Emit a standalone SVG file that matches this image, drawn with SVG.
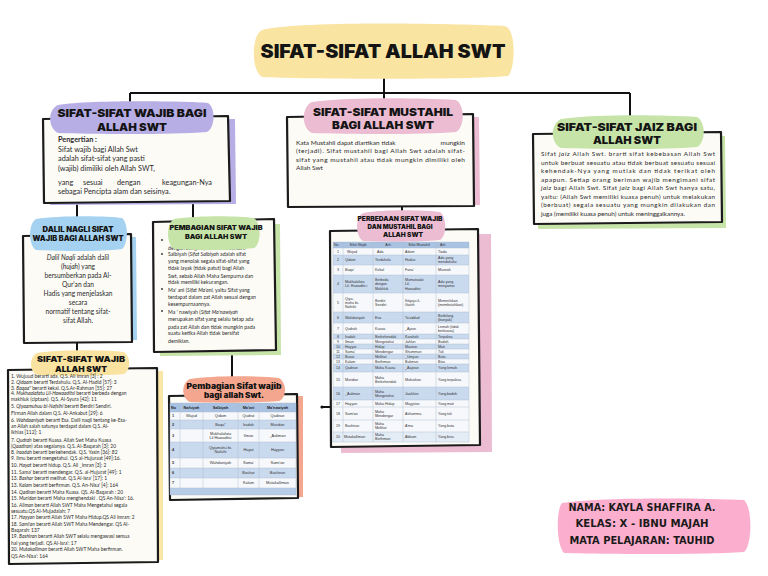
<svg xmlns="http://www.w3.org/2000/svg" width="768" height="576" viewBox="0 0 768 576">
<style>
.box{fill:#fcfbf6;stroke:#1b1b1b;stroke-width:2.2;stroke-linejoin:round}
.hd{font-family:Inter,"DejaVu Sans",sans-serif;font-weight:900;fill:#141414;text-anchor:middle}
.bd{font-family:Lato,"Open Sans",sans-serif;fill:#2a2a2a}
.tb{font-family:"Liberation Sans",Arial,sans-serif;font-size:3.6px;fill:#333}
.th{font-family:"Liberation Sans",Arial,sans-serif;font-size:3.8px;fill:#222;font-weight:700}
.tp{font-family:"Liberation Sans",Arial,sans-serif;font-size:3.9px;fill:#333;text-anchor:middle}
.tc{text-anchor:middle}
.ln{stroke:#111;stroke-width:2;fill:none}
.grid{stroke:#a7b8cf;stroke-width:0.4;fill:none}
.it{font-style:italic}
.rb{fill:#c9daee}
.rw{fill:#f6f8fb}
.rh{fill:#a9c2e2}
.nm{font-family:"DejaVu Sans","Liberation Sans",sans-serif;font-weight:700;font-size:11px;fill:#1a1a1a;text-anchor:middle}
</style>
<rect width="768" height="576" fill="#ffffff"/>

<g id="connectors">
<path class="ln" d="M384,78 V93 M130,93 H630 M130,93 V104 M384,93 V101 M630,93 V118 M77,202 V218 M193,202 V218 M77,343 V352 M232,351 V378 M402,206 V213 M322,407 H331"/>
<circle cx="322" cy="407" r="1.6" fill="#111"/>
</g>

<g id="title">
<path d="M262,30 C300,20 470,24 505,26 C517,30 515,70 508,76 C470,80 300,79 262,77 C251,70 251,36 262,30 Z" fill="#f9e4a2"/>
<text class="hd" x="383" y="58" font-size="18.5" textLength="245" lengthAdjust="spacingAndGlyphs">SIFAT-SIFAT ALLAH SWT</text>
</g>

<g id="wajib">
<path d="M50,121 L235,119 L236,204 L50,205 Z" fill="#b8aee6"/>
<path class="box" d="M43,119 L228,116 L230,201 L44,203 Z"/>
<path d="M58,105 C90,100 180,101 208,103 C216,108 215,128 207,132 C170,135 90,134 58,133 C48,128 47,110 58,105 Z" fill="#b8aee6"/>
<text class="hd" x="132" y="117" font-size="10.8" textLength="149" lengthAdjust="spacingAndGlyphs">SIFAT-SIFAT WAJIB BAGI</text>
<text class="hd" x="132" y="131" font-size="10.8" textLength="70" lengthAdjust="spacingAndGlyphs">ALLAH SWT</text>
<g class="bd" font-size="7.3">
<text x="58" y="142" font-weight="700">Pengertian :</text>
<text x="58" y="152">Sifat wajib bagi Allah Swt</text>
<text x="58" y="161">adalah sifat-sifat yang pasti</text>
<text x="58" y="171">(wajib) dimiliki oleh Allah SWT,</text>
<text y="185"><tspan x="58">yang</tspan><tspan x="83">sesuai</tspan><tspan x="117">dengan</tspan></text>
<text x="212" y="185" text-anchor="end">keagungan-Nya</text>
<text x="58" y="194">sebagai Pencipta alam dan seisinya.</text>
</g>
</g>

<g id="dalil">
<path d="M30,238 L136,237 L137,340 L30,341 Z" fill="#a4d2f0"/>
<path class="box" d="M23,236 L131,234 L132,342 L24,343 Z"/>
<path d="M36,219 C60,215 110,216 122,218 C129,224 128,244 122,249 C100,252 60,251 36,250 C28,245 28,224 36,219 Z" fill="#a4d2f0"/>
<text class="hd" x="78" y="232" font-size="7.1" textLength="71" lengthAdjust="spacingAndGlyphs">DALIL NAGLI SIFAT</text>
<text class="hd" x="78" y="241" font-size="7.1" textLength="91" lengthAdjust="spacingAndGlyphs">WAJIB BAGI ALLAH SWT</text>
<g class="bd" font-size="6.6" text-anchor="middle">
<text x="78" y="260"><tspan class="it">Dalil</tspan>  <tspan class="it">Naqli</tspan> adalah dalil</text>
<text x="78" y="269">(<tspan class="it">hujah</tspan>) yang</text>
<text x="78" y="278">bersumberkan pada Al-</text>
<text x="78" y="287">Qur'an dan</text>
<text x="78" y="296">Hadis yang menjelaskan</text>
<text x="78" y="305">secara</text>
<text x="78" y="314">normatif tentang sifat-</text>
<text x="78" y="323">sifat Allah.</text>
</g>
</g>

<g id="pembagian">
<path d="M158,226 L280,224 L281,355 L160,356 Z" fill="#c6e3a8"/>
<path class="box" d="M153,222 L274,219 L276,350 L154,352 Z"/>
<g class="bd" font-size="5.2">
<text x="168" y="250">dengan zat (jaat) Allah Swt sendiri.</text>
</g>
<path d="M174,219 C200,215 240,216 254,218 C262,224 261,244 254,248 C230,251 200,250 174,249 C166,244 166,224 174,219 Z" fill="#c6e3a8"/>
<text class="hd" x="216" y="230" font-size="6.5" textLength="93" lengthAdjust="spacingAndGlyphs">PEMBAGIAN SIFAT WAJIB</text>
<text class="hd" x="216" y="238.5" font-size="6.5" textLength="62" lengthAdjust="spacingAndGlyphs">BAGI ALLAH SWT</text>
<g fill="#2a2a2a">
<circle cx="162" cy="240" r="0.9"/><circle cx="162" cy="254" r="0.9"/><circle cx="162" cy="289" r="0.9"/><circle cx="162" cy="311" r="0.9"/>
</g>
<g class="bd" font-size="5.2">
<text x="168" y="256">Salbiyah (<tspan class="it">Sifat Salbiyah</tspan> adalah sifat</text>
<text x="168" y="263">yang menolak segala sifat-sifat yang</text>
<text x="168" y="270">tidak layak (tidak patut) bagi Allah</text>
<text x="168" y="278">Swt, sebab Allah Maha Sempurna dan</text>
<text x="168" y="284">tidak memiliki kekurangan.</text>
<text x="168" y="292"> Ma' ani (<tspan class="it">Sifat Ma'ani</tspan>, yaitu Sifat yang</text>
<text x="168" y="299">terdapat dalam zat Allah sesuai dengan</text>
<text x="168" y="306">kesempurnaannya.</text>
<text x="168" y="314">Ma ' nawiyah (<tspan class="it">Sifat Ma'nawiyah</tspan></text>
<text x="168" y="321">merupakan sifat yang selalu tetap ada</text>
<text x="168" y="329">pada zat Allah dan tidak mungkin pada</text>
<text x="168" y="335">suatu ketika Allah tidak bersifat</text>
<text x="168" y="343">demikian.</text>
</g>
</g>

<g id="list-wajib">
<path d="M14,372 L163,371 L163,560 L14,562 Z" fill="#fae7a8"/>
<path class="box" d="M8,370 L157,368 L158,562 L9,564 Z"/>
<path d="M37,353 C60,349 110,350 124,352 C131,357 131,370 124,374 C100,376 60,376 37,375 C29,371 29,357 37,353 Z" fill="#fae3a0"/>
<text class="hd" x="81" y="362" font-size="8.2" textLength="88" lengthAdjust="spacingAndGlyphs">SIFAT-SIFAT WAJIB</text>
<text class="hd" x="81" y="372" font-size="8.2" textLength="52" lengthAdjust="spacingAndGlyphs">ALLAH SWT</text>
<g class="bd" font-size="4.9" fill="#333">
<text x="11" y="378">1. Wujuud berarti ada. Q.S. Ali Imran [3] : 2</text>
<text x="11" y="384">2. <tspan class="it">Qidaam</tspan> berarti Terdahulu. Q.S. Al-Hadid [57]: 3</text>
<text x="11" y="389.5">3. <tspan class="it">Baqaa"</tspan> berarti kekal. Q.S.Ar-Rahman [55]: 27</text>
<text x="11" y="395">4. <tspan class="it">Mukhaalafatu Lil-Hawaaditsi</tspan> berarti berbeda dengan</text>
<text x="11" y="400.5">makhluk (ciptaan). Q.S. Al-Syura [42]: 11</text>
<text x="11" y="408">5. <tspan class="it">Qiyaamuhuu bi-Nafsihi</tspan> berarti Berdiri Sendiri.</text>
<text x="11" y="414.5">Firman Allah dalam Q.S. Al-Ankabut [29]: 6</text>
<text x="11" y="422">6. <tspan class="it">Wahdaaniyah</tspan> berarti Esa. Dalil naqli tentang ke-Esa-</text>
<text x="11" y="428">an Allah salah satunya terdapat dalam Q.S. Al-</text>
<text x="11" y="434">Ikhlas [112]: 1</text>
<text x="11" y="442">7. <tspan class="it">Qudrah</tspan> berarti Kuasa. Allah Swt Maha Kuasa</text>
<text x="11" y="448">(<tspan class="it">Qaadiran</tspan>) atas segalanya. Q.S. Al-Baqarah [3]: 20</text>
<text x="11" y="453.5">8. <tspan class="it">Iraadah</tspan> berarti berkehendak. Q.S. Yasin [36]: 82</text>
<text x="11" y="460">9. Ilmu berarti mengetahui. Q.S al-Hujuraat [49]:16.</text>
<text x="11" y="467">10. <tspan class="it">Hayat</tspan> berarti hidup. Q.S. Ali _Imran [3]: 2</text>
<text x="11" y="474">11. Sama' berarti mendengar. Q.S. al-Hujurat [49]: 1</text>
<text x="11" y="480">13. <tspan class="it">Bashar</tspan> berarti melihat. Q.S Al-Isra' [17]: 1</text>
<text x="11" y="487">13. <tspan class="it">Kalam</tspan> berarti berfirman. Q.S. An-Nisa' [4]: 164</text>
<text x="11" y="494">14. <tspan class="it">Qadiran</tspan> berarti Maha Kuasa. QS. Al-Baqarah : 20</text>
<text x="11" y="500">15. <tspan class="it">Muridan</tspan> berarti Maha menghendaki . QS An-Nisa': 16.</text>
<text x="11" y="507">16. <tspan class="it">Aliman</tspan> berarti Allah SWT Maha Mengetahui segala</text>
<text x="11" y="513">sesuatu.QS Al-Mujadalah: 7</text>
<text x="11" y="519">17.  <tspan class="it">Hayyan</tspan> berarti Allah SWT Maha Hidup.QS Ali Imran: 2</text>
<text x="11" y="526">18. <tspan class="it">Sami'an</tspan> berarti Allah SWT Maha Mendengar. QS Al-</text>
<text x="11" y="532">Baqarah: 137</text>
<text x="11" y="538">19. <tspan class="it">Bashiran</tspan> berarti Allah SWT selalu mengawasi semua</text>
<text x="11" y="545">hal yang terjadi. QS Al-Isra': 17</text>
<text x="11" y="551">20. <tspan class="it">Mutakalliman</tspan> berarti Allah SWT Maha berfirman.</text>
<text x="11" y="558">QS An-Nisa': 164</text>
</g>
</g>

<g id="mustahil">
<path d="M294,119 L479,117 L480,205 L294,206 Z" fill="#ecbcd2"/>
<path class="box" d="M287,117 L473,114 L474,206 L288,207 Z"/>
<path d="M312,102 C350,97 420,98 456,100 C465,105 465,127 456,132 C420,135 350,134 312,133 C301,128 301,107 312,102 Z" fill="#ecbcd2"/>
<text class="hd" x="383" y="115.5" font-size="10.8" textLength="140" lengthAdjust="spacingAndGlyphs">SIFAT-SIFAT MUSTAHIL</text>
<text class="hd" x="383" y="128.5" font-size="10.8" textLength="102" lengthAdjust="spacingAndGlyphs">BAGI ALLAH SWT</text>
<g class="bd" font-size="6.5">
<text x="296" y="145">Kata Mustahil dapat diartikan tidak</text>
<text x="465" y="145" text-anchor="end">mungkin</text>
<text x="296" y="153" textLength="169" lengthAdjust="spacing">(terjadi). Sifat mustahil bagi Allah Swt adalah sifat-</text>
<text x="296" y="162" textLength="169" lengthAdjust="spacing">sifat yang mustahil atau tidak mungkin dimiliki oleh</text>
<text x="296" y="170">Allah Swt</text>
</g>
</g>

<g id="perbedaan">
<path d="M340,236 L491,234 L492,452 L341,453 Z" fill="#ecbcd2"/>
<path class="box" d="M330,231 L478,229 L480,445 L331,447 Z"/>
<path d="M363,213 C385,209 425,210 440,212 C447,217 447,236 440,240 C420,242 385,242 363,241 C355,236 355,217 363,213 Z" fill="#ecbcd2"/>
<text class="hd" x="400" y="221" font-size="6.4" textLength="85" lengthAdjust="spacingAndGlyphs">PERBEDAAN SIFAT WAJIB</text>
<text class="hd" x="400" y="229" font-size="6.4" textLength="65" lengthAdjust="spacingAndGlyphs">DAN MUSTAHIL BAGI</text>
<text class="hd" x="403" y="237" font-size="6.4" textLength="40" lengthAdjust="spacingAndGlyphs">ALLAH SWT</text>
<rect class="rh" x="333" y="242" width="136" height="6"/>
<rect class="rw" x="333" y="248" width="136" height="7"/>
<rect class="rb" x="333" y="255" width="136" height="10"/>
<rect class="rw" x="333" y="265" width="136" height="10"/>
<rect class="rb" x="333" y="275" width="136" height="18"/>
<rect class="rw" x="333" y="293" width="136" height="19"/>
<rect class="rb" x="333" y="312" width="136" height="11"/>
<rect class="rw" x="333" y="323" width="136" height="11"/>
<rect class="rb" x="333" y="334" width="136" height="5"/>
<rect class="rw" x="333" y="339" width="136" height="5"/>
<rect class="rb" x="333" y="344" width="136" height="5"/>
<rect class="rw" x="333" y="349" width="136" height="5"/>
<rect class="rb" x="333" y="354" width="136" height="5"/>
<rect class="rw" x="333" y="359" width="136" height="5"/>
<rect class="rb" x="333" y="364" width="136" height="8"/>
<rect class="rw" x="333" y="372" width="136" height="15"/>
<rect class="rb" x="333" y="387" width="136" height="13"/>
<rect class="rw" x="333" y="400" width="136" height="7"/>
<rect class="rw" x="333" y="407" width="136" height="13"/>
<rect class="rw" x="333" y="420" width="136" height="12"/>
<rect fill="#e4ecf6" x="333" y="432" width="136" height="10"/>
<path class="grid" d="M333,242 H469 V442 H333 Z M343,242 V442 M373,242 V442 M403,242 V442 M436,242 V442 M333,248 H469 M333,255 H469 M333,265 H469 M333,275 H469 M333,293 H469 M333,312 H469 M333,323 H469 M333,334 H469 M333,339 H469 M333,344 H469 M333,349 H469 M333,354 H469 M333,359 H469 M333,364 H469 M333,372 H469 M333,387 H469 M333,400 H469 M333,407 H469 M333,420 H469 M333,432 H469"/>
<g class="tb">
<text x="334" y="246.3">No</text><text x="358" y="246.3" class="tc">Sifat Wajib</text><text x="388" y="246.3" class="tc">Arti</text><text x="419" y="246.3" class="tc">Sifat Mustahil</text><text x="440" y="246.3">Arti</text>
<text x="338" y="252.8" class="tc">1</text><text x="347" y="252.8">Wujud</text><text x="377" y="252.8">Ada</text><text x="405" y="252.8">Adam</text><text x="438" y="252.8">Tiada</text>
<text x="338" y="261.3" class="tc">2</text><text x="345" y="261.3">Qidam</text><text x="375" y="261.3">Terdahulu</text><text x="405" y="261.3">Hudus</text><text x="438" y="259.2">Ada yang</text><text x="438" y="263.4">mendahului</text>
<text x="338" y="271.3" class="tc">3</text><text x="345" y="271.3">Baqa'</text><text x="375" y="271.3">Kekal</text><text x="405" y="271.3">Fana'</text><text x="438" y="271.3">Musnah</text>
<text x="338" y="285.3" class="tc">4</text><text x="345" y="283.2">Mukhalafatu</text><text x="345" y="287.4">Lil- Hawadits i</text><text x="375" y="281.1">Berbeda</text><text x="375" y="285.3">dengan</text><text x="375" y="289.5">Makhluk</text><text x="405" y="281.1">Mumatsalat</text><text x="405" y="285.3">Lil-</text><text x="405" y="289.5">Hawaditsi</text><text x="438" y="283.2">Ada yang</text><text x="438" y="287.4">menyamai</text>
<text x="338" y="303.8" class="tc">5</text><text x="345" y="299.6">Qiya-</text><text x="345" y="303.8">muhu bi-</text><text x="345" y="308">Nafsihi</text><text x="375" y="301.7">Berdiri</text><text x="375" y="305.9">Sendiri</text><text x="405" y="301.7">Ihtiyaju li-</text><text x="405" y="305.9">Gairih</text><text x="438" y="301.7">Memerlukan</text><text x="438" y="305.9">(membutuhkan)</text>
<text x="338" y="318.8" class="tc">6</text><text x="345" y="318.8">Wahdaniyah</text><text x="375" y="318.8">Esa</text><text x="405" y="318.8">Ta'addud</text><text x="438" y="316.7">Berbilang</text><text x="438" y="320.9">(banyak)</text>
<text x="338" y="329.8" class="tc">7</text><text x="345" y="329.8">Qudrah</text><text x="375" y="329.8">Kuasa</text><text x="405" y="329.8">_Ajzun</text><text x="438" y="327.7">Lemah (tidak</text><text x="438" y="331.9">berkuasa)</text>
<text x="338" y="337.8" class="tc">8</text><text x="345" y="337.8">Iradah</text><text x="375" y="337.8">Berkehendak</text><text x="405" y="337.8">Karahah</text><text x="438" y="337.8">Terpaksa</text>
<text x="338" y="342.8" class="tc">9</text><text x="345" y="342.8">Ilmun</text><text x="375" y="342.8">Mengetahui</text><text x="405" y="342.8">Jahlun</text><text x="438" y="342.8">Bodoh</text>
<text x="338" y="347.8" class="tc">10</text><text x="345" y="347.8">Hayyat</text><text x="375" y="347.8">Hidup</text><text x="405" y="347.8">Mautun</text><text x="438" y="347.8">Mati</text>
<text x="338" y="352.8" class="tc">11</text><text x="345" y="352.8">Sama'</text><text x="375" y="352.8">Mendengar</text><text x="405" y="352.8">Shummun</text><text x="438" y="352.8">Tuli</text>
<text x="338" y="357.8" class="tc">12</text><text x="345" y="357.8">Basar</text><text x="375" y="357.8">Melihat</text><text x="405" y="357.8">_Umyun</text><text x="438" y="357.8">Buta</text>
<text x="338" y="362.8" class="tc">13</text><text x="345" y="362.8">Kalam</text><text x="375" y="362.8">Berfirman</text><text x="405" y="362.8">Bukmun</text><text x="438" y="362.8">Bisu</text>
<text x="338" y="369.3" class="tc">14</text><text x="345" y="369.3">Qadiran</text><text x="375" y="369.3">Maha Kuasa</text><text x="405" y="369.3">_Aajizan</text><text x="438" y="369.3">Yang lemah</text>
<text x="338" y="380.8" class="tc">15</text><text x="345" y="380.8">Muridan</text><text x="375" y="378.7">Maha</text><text x="375" y="382.9">Berkehendak</text><text x="405" y="380.8">Mukrahan</text><text x="438" y="380.8">Yang terpaksa</text>
<text x="338" y="394.8" class="tc">16</text><text x="345" y="394.8">_Aaliman</text><text x="375" y="392.7">Maha</text><text x="375" y="396.9">Mengetahui</text><text x="405" y="394.8">Jaahilan</text><text x="438" y="394.8">Yang bodoh</text>
<text x="338" y="404.8" class="tc">17</text><text x="345" y="404.8">Hayyan</text><text x="375" y="404.8">Maha Hidup</text><text x="405" y="404.8">Mayyitan</text><text x="438" y="404.8">Yang mati</text>
<text x="338" y="414.8" class="tc">18</text><text x="345" y="414.8">Sami'an</text><text x="375" y="412.7">Maha</text><text x="375" y="416.9">Mendengar</text><text x="405" y="414.8">Ashamma</text><text x="438" y="414.8">Yang tuli</text>
<text x="338" y="427.3" class="tc">19</text><text x="345" y="427.3">Bashiran</text><text x="375" y="425.2">Maha</text><text x="375" y="429.4">Melihat</text><text x="405" y="427.3">A'ma</text><text x="438" y="427.3">Yang buta</text>
<text x="338" y="438.3" class="tc">20</text><text x="344" y="438.3">Mutakalliman</text><text x="375" y="436.2">Maha</text><text x="375" y="440.4">Berfirman</text><text x="405" y="438.3">Abkam</text><text x="438" y="438.3">Yang bisu</text>
</g>
</g>

<g id="jaiz">
<path d="M537,137 L725,136 L726,228 L538,229 Z" fill="#c6e3a8"/>
<path class="box" d="M533,134 L721,132 L722,222 L534,224 Z"/>
<path d="M561,119 C600,114 660,115 697,117 C706,122 706,142 697,147 C660,150 600,149 561,148 C550,143 550,124 561,119 Z" fill="#c6e3a8"/>
<text class="hd" x="627" y="130.5" font-size="10.8" textLength="140" lengthAdjust="spacingAndGlyphs">SIFAT-SIFAT JAIZ BAGI</text>
<text class="hd" x="627" y="143.5" font-size="10.8" textLength="68" lengthAdjust="spacingAndGlyphs">ALLAH SWT</text>
<g class="bd" font-size="6.3">
<text x="541" y="156" textLength="174" lengthAdjust="spacing">Sifat <tspan class="it">jaiz</tspan> Allah Swt. brarti sifat kebebasan Allah Swt</text>
<text x="541" y="164.5" textLength="174" lengthAdjust="spacing">untuk berbuat sesuatu atau tidak berbuat sesuatu sesuai</text>
<text x="541" y="173" textLength="174" lengthAdjust="spacing">kehendak-Nya yang mutlak dan tidak terikat oleh</text>
<text x="541" y="181.5" textLength="174" lengthAdjust="spacing">apapun. Setiap orang beriman wajib mengimani sifat</text>
<text x="541" y="190" textLength="174" lengthAdjust="spacing"><tspan class="it">jaiz</tspan> bagi Allah Swt. Sifat <tspan class="it">jaiz</tspan> bagi Allah Swt hanya satu,</text>
<text x="541" y="198.5" textLength="174" lengthAdjust="spacing">yaitu: (Allah Swt memiliki kuasa penuh) untuk melakukan</text>
<text x="541" y="207" textLength="174" lengthAdjust="spacing">(berbuat) segala sesuatu yang mungkin dilakukan dan</text>
<text x="541" y="215.5">juga (memiliki kuasa penuh) untuk meninggalkannya.</text>
</g>
</g>

<g id="pembagian-tabel">
<path d="M176,397 L303,396 L303,497 L176,499 Z" fill="#f4a68e"/>
<path class="box" d="M169,396 L297,394 L298,498 L170,500 Z"/>
<rect class="rh" x="170" y="403" width="126" height="9"/>
<rect class="rw" x="170" y="412" width="126" height="8"/>
<rect class="rb" x="170" y="420" width="126" height="9"/>
<rect class="rw" x="170" y="429" width="126" height="13"/>
<rect class="rb" x="170" y="442" width="126" height="16"/>
<rect class="rw" x="170" y="458" width="126" height="10"/>
<rect class="rb" x="170" y="468" width="126" height="10"/>
<rect class="rw" x="170" y="478" width="126" height="10"/>
<rect fill="#b7cce7" x="170" y="488" width="126" height="7"/>
<path class="grid" d="M170,403 H296 V495 H170 Z M180,403 V488 M203,403 V488 M238,403 V488 M259,403 V488 M170,412 H296 M170,420 H296 M170,429 H296 M170,442 H296 M170,458 H296 M170,468 H296 M170,478 H296 M170,488 H296"/>
<path d="M190,379 C215,375 260,376 279,378 C287,383 287,397 279,401 C255,403 215,403 190,402 C181,398 181,383 190,379 Z" fill="#f4a68e"/>
<text class="hd" x="234" y="388.5" font-size="7.4" font-weight="800" textLength="95" lengthAdjust="spacingAndGlyphs">Pembagian Sifat wajib</text>
<text class="hd" x="234" y="397.5" font-size="7.4" font-weight="800" textLength="60" lengthAdjust="spacingAndGlyphs">bagi allah Swt.</text>
<g class="th">
<text x="171" y="409.3">No</text><text x="191.5" y="409.3" class="tc">Nafsiyah</text><text x="220.5" y="409.3" class="tc">Salbiyah</text><text x="248.5" y="409.3" class="tc">Ma'ani</text><text x="277.5" y="409.3" class="tc">Ma'nawiyah</text>
</g>
<g class="tp">
<text x="173" y="417.3" font-weight="700">1</text><text x="191.5" y="417.3">Wajud</text><text x="220.5" y="417.3">Qidam</text><text x="248.5" y="417.3">Qudrat</text><text x="277.5" y="417.3">Qadiran</text>
<text x="173" y="425.8" font-weight="700">2</text><text x="220.5" y="425.8">Baqa"</text><text x="248.5" y="425.8">Iradah</text><text x="277.5" y="425.8">Muridan</text>
<text x="173" y="436.8" font-weight="700">3</text><text x="220.5" y="434.7">Mukhalafatu</text><text x="220.5" y="438.9">Lil Hawaditsi</text><text x="248.5" y="436.8">Ilmun</text><text x="277.5" y="436.8">_Aaliman</text>
<text x="173" y="451.3" font-weight="700">4</text><text x="220.5" y="449.2">Qiyamuhu bi-</text><text x="220.5" y="453.4">Nafsihi</text><text x="248.5" y="451.3">Hayat</text><text x="277.5" y="451.3">Hayyan</text>
<text x="173" y="464.3" font-weight="700">5</text><text x="220.5" y="464.3">Wahdaniyah</text><text x="248.5" y="464.3">Sama'</text><text x="277.5" y="464.3">Sami'an</text>
<text x="173" y="474.3" font-weight="700">6</text><text x="248.5" y="474.3">Bashar</text><text x="277.5" y="474.3">Bashiran</text>
<text x="173" y="484.3" font-weight="700">7</text><text x="248.5" y="484.3">Kalam</text><text x="277.5" y="484.3">Mutakalliman</text>
</g>
</g>

<g id="nama">
<path d="M562,503 C600,497 700,498 744,500 C753,508 752,546 744,552 C700,555 600,554 564,553 C556,545 556,510 562,503 Z" fill="#fbaecd"/>
<text class="nm" x="642" y="511" textLength="147" lengthAdjust="spacingAndGlyphs">NAMA: KAYLA SHAFFIRA A.</text>
<text class="nm" x="642" y="527" textLength="133" lengthAdjust="spacingAndGlyphs">KELAS: X - IBNU MAJAH</text>
<text class="nm" x="642" y="544" textLength="145" lengthAdjust="spacingAndGlyphs">MATA PELAJARAN: TAUHID</text>
</g>
</svg>
